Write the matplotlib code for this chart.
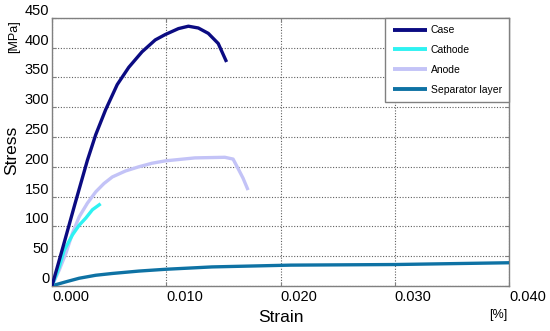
import numpy as np
import matplotlib.pyplot as plt

plt.rcParams['font.family'] = ['Liberation Sans', 'DejaVu Sans']

# strain [-] and stress [MPa]
case_strain = [0.0, 0.001, 0.002, 0.0031, 0.00383, 0.0047, 0.00571, 0.00672, 0.00788,
               0.00904, 0.00991, 0.01107, 0.01194, 0.01281, 0.01368, 0.01455, 0.01528]
case_stress = [0, 68, 137, 211, 254, 296, 338, 367, 393,
               413, 422, 432, 436, 433, 424, 407, 376]

cathode_strain = [0.0, 0.00064, 0.00107, 0.0018, 0.00238, 0.00296, 0.00354, 0.00426]
cathode_stress = [0, 32, 60, 86, 102, 114, 128, 138]

anode_strain = [0.0, 0.00064, 0.00122, 0.0018, 0.00238, 0.0031, 0.00383, 0.00455,
                0.00528, 0.00643, 0.00759, 0.00875, 0.00991, 0.01252, 0.01513,
                0.01585, 0.01629, 0.01672, 0.01716]
anode_stress = [0, 27, 55, 89, 116, 139, 158, 172,
                183, 193, 200, 206, 210, 215, 216,
                213, 197, 181, 161]

sep_strain = [0.0, 0.0003, 0.00122, 0.00238, 0.00383, 0.00528, 0.00759, 0.00991,
              0.014, 0.0209, 0.030, 0.040]
sep_stress = [0, 2, 7, 13, 18, 21, 25, 28, 32, 35, 36, 39]

series = [
    ('Case', case_strain, case_stress, '#0b0b82'),
    ('Cathode', cathode_strain, cathode_stress, '#2ef2f2'),
    ('Anode', anode_strain, anode_stress, '#c3c3f7'),
    ('Separator layer', sep_strain, sep_stress, '#0e72a4'),
]

fig = plt.figure(figsize=(5.5, 3.31), dpi=100)
ax = fig.add_axes([0.0945, 0.136, 0.831, 0.81])

handles = []
zs = [5, 4, 3, 3]
for (name, sx, sy, col), z in zip(series, zs):
    l, = ax.plot(sx, sy, '-', color=col, label=name, linewidth=2.4,
                 solid_joinstyle='round', solid_capstyle='butt', zorder=z)
    handles.append(l)

ax.set_xlim(0, 0.04)
ax.set_ylim(0, 450)
ax.set_xticks([0.0, 0.01, 0.02, 0.03, 0.04])
ax.set_xticklabels(['0.000', '0.010', '0.020', '0.030', '0.040'], ha='left')
ax.set_yticks(range(0, 451, 50))
ax.set_yticklabels([str(v) for v in range(0, 451, 50)], va='bottom')
ax.tick_params(direction='in', length=3, color='#808080', labelsize=10.5,
               top=True, right=True, pad=3)
ax.tick_params(axis='y', pad=2)

for s in ax.spines.values():
    s.set_color('#808080')
    s.set_linewidth(1.0)

plt.grid(True, linestyle=(0, (1, 1.5)), color='#606060', linewidth=0.8)
ax.set_axisbelow(True)

leg = ax.legend(handles=handles, loc='upper right', fontsize=7.5,
                handlelength=3.3, handletextpad=0.35, borderaxespad=0,
                labelspacing=0.95, fancybox=False, framealpha=1,
                borderpad=0.7)
leg.get_frame().set_edgecolor('#808080')
leg.get_frame().set_linewidth(1.0)
for lh in leg.get_lines():
    lh.set_linewidth(2.8)

fig.text(0.021, 0.547, 'Stress', rotation=90, ha='center', va='center', fontsize=12.5)
fig.text(0.026, 0.89, '[MPa]', rotation=90, ha='center', va='center', fontsize=9)
fig.text(0.51, 0.04, 'Strain', ha='center', va='center', fontsize=12.5)
fig.text(0.905, 0.048, '[%]', ha='center', va='center', fontsize=9)

plt.savefig('out.png', dpi=100)
